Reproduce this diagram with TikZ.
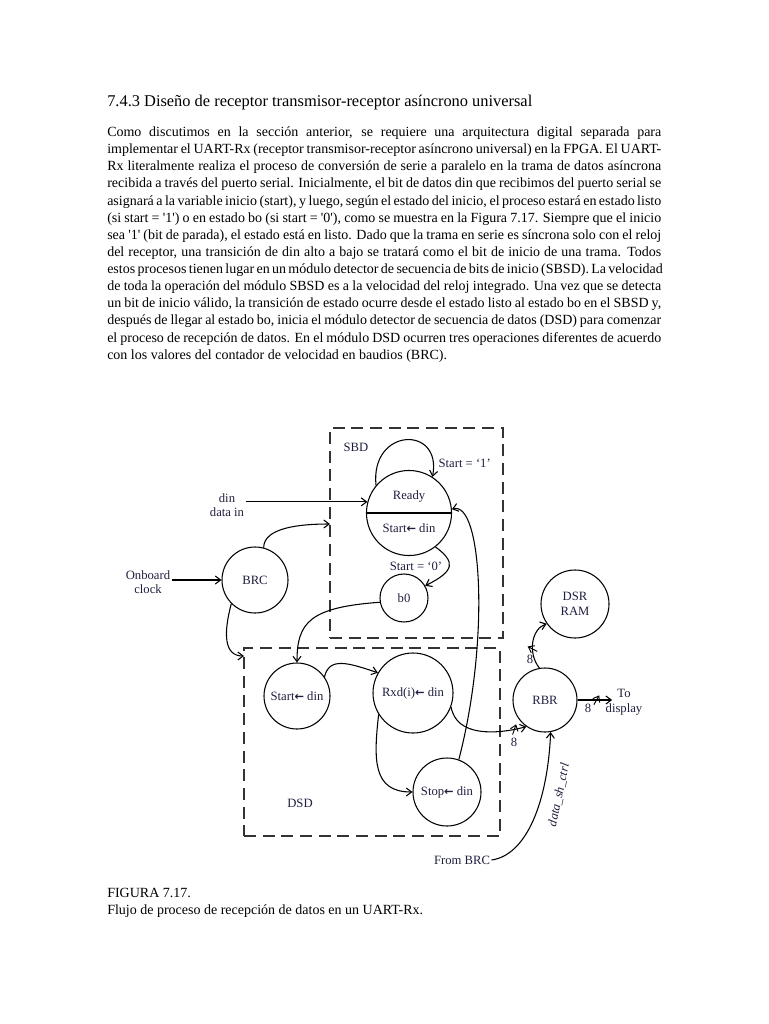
\documentclass[tikz,border=0pt]{standalone}
\usepackage{fontspec}
\setmainfont{Liberation Serif}
\newfontfamily\arrowglyph{DejaVu Sans}
\usetikzlibrary{arrows.meta,shapes.multipart,fit,decorations.markings}
\definecolor{ink}{RGB}{30,30,62}
\newcommand{\jline}[1]{\makebox[415.5pt][s]{#1}}
\newcommand{\nowide}[1]{\makebox[0pt]{#1}}
\newcommand{\sq}{\textquotesingle}
\newcommand{\getsarrow}{{\arrowglyph\bfseries\fontsize{8.5}{10}\selectfont ←}}

\begin{document}
\begin{tikzpicture}[x=0.75pt, y=-0.75pt,
  state/.style={circle, draw, line width=0.8pt, inner sep=0pt, text=ink,
    font=\fontsize{9.5}{11}\selectfont},
  flow/.style={line width=0.8pt, -{Straight Barb[length=4pt,width=6pt]}},
  module/.style={draw=black!80, line width=1pt, dash pattern=on 9pt off 5pt, inner sep=0pt},
  lbl/.style={text=ink, font=\fontsize{9.5}{11}\selectfont, inner sep=1pt},
  bus/.style={postaction={decorate, decoration={markings,
    mark=at position #1 with {\draw[line width=0.7pt] (-2pt,-3.5pt) -- (2pt,3.5pt);}}}},
  page/.style={inner sep=0pt, align=left}]
\useasboundingbox (0,0) rectangle (768,1024);

\node[page, anchor=base west, font=\fontsize{12.3}{15}\selectfont] (title) at (107,107)
  {7.4.3 Diseño de receptor transmisor-receptor asíncrono universal};
\node[page, anchor=north west, font=\fontsize{10.5}{12.85}\selectfont] (body) at (107,126.5) {%
\jline{Como discutimos en la sección anterior, se requiere una arquitectura digital separada para}\\
\jline{implementar el UART-Rx (receptor transmisor-receptor asíncrono universal) en la FPGA. El UART-}\\
\jline{Rx literalmente realiza el proceso de conversión de serie a paralelo en la trama de datos asíncrona}\\
\jline{recibida a través del puerto serial. Inicialmente, el bit de datos din que recibimos del puerto serial se}\\
\jline{asignará a la variable inicio (start), y luego, según el estado del inicio, el proceso estará en estado listo}\\
\jline{(si start = \sq1\sq) o en estado bo (si start = \sq0\sq), como se muestra en la Figura 7.17. Siempre que el inicio}\\
\jline{sea \sq1\sq{} (bit de parada), el estado está en listo. Dado que la trama en serie es síncrona solo con el reloj}\\
\jline{del receptor, una transición de din alto a bajo se tratará como el bit de inicio de una trama. Todos}\\
\jline{estos procesos tienen lugar en un módulo detector de secuencia de bits de inicio (SBSD). La velocidad}\\
\jline{de toda la operación del módulo SBSD es a la velocidad del reloj integrado. Una vez que se detecta}\\
\jline{un bit de inicio válido, la transición de estado ocurre desde el estado listo al estado bo en el SBSD y,}\\
\jline{después de llegar al estado bo, inicia el módulo detector de secuencia de datos (DSD) para comenzar}\\
\jline{el proceso de recepción de datos. En el módulo DSD ocurren tres operaciones diferentes de acuerdo}\\
con los valores del contador de velocidad en baudios (BRC).};

\node[module, fit={(330,428) (503,638)}] (sbd) {};
\node[module, fit={(244,648) (500,836)}] (dsd) {};
\node[lbl] (sbdname) at (356,447) {SBD};
\node[lbl] (dsdname) at (300,803) {DSD};
\coordinate (sbdin) at (330,524);
\coordinate (dsdin) at (244,656);

\node[state, circle split, minimum size=63pt, inner ysep=8pt] (ready) at (409,513)
  {Ready \nodepart{lower} Start\getsarrow\ din};
\node[state, minimum size=36pt] (b0) at (404,598) {b0};
\node[state, minimum size=49.5pt] (brc) at (255,580) {BRC};
\node[state, minimum size=49.5pt] (start) at (297,696) {\nowide{Start\getsarrow\ din}};
\node[state, minimum size=60pt] (rxd) at (413,693) {\nowide{Rxd(i)\getsarrow\ din}};
\node[state, minimum size=51pt] (stop) at (447,792) {\nowide{Stop\getsarrow\ din}};
\node[state, minimum size=48pt] (rbr) at (545,700) {RBR};
\node[state, minimum size=51pt, align=center] (dsr) at (575,604) {DSR\\RAM};

\node[lbl, align=center] (din) at (227,505) {din\\data in};
\node[lbl, align=center] (clock) at (148,582) {Onboard\\clock};
\node[lbl, align=center, inner sep=0pt] (disp) at (624,702) {To\\display};
\node[lbl] (frombrc) at (462,860) {From BRC};

\draw[flow] (din.east |- ready.165) -- (ready.165);
\draw[flow] (clock.east |- brc.west) -- (brc.west);
\draw[flow] (brc.75) .. controls +(0,-20) and +(-30,0) .. (sbdin);
\draw[flow] (brc.225) .. controls +(-8,30) and +(-20,0) .. (dsdin);
\draw[flow] (ready.140) .. controls +(-6,-58) and +(10,-52) .. (ready.57);
\node[lbl, anchor=west] (one) at (437,463) {Start = `1'};
\draw[flow] (ready.-52) .. controls +(20,15) and +(30,-15) .. (b0.30);
\node[lbl] (zero) at (416,566) {Start = `0'};
\draw[flow] (b0.190) .. controls +(-70,5) and +(0,-40) .. (start.north);
\draw[flow] (start.35) .. controls +(5,-20) and +(-30,-10) .. (rxd.150);
\draw[flow] (rxd.212) .. controls +(-5,45) and +(-40,0) .. (stop.west);
\draw[flow, bus=0.86] (rxd.-20) .. controls +(5,30) and +(-30,8) .. (rbr.235);
\node[lbl] (w1) at (514,742) {8};
\draw[flow] (stop.70) .. controls (490,640) and (482,500) .. (ready.5);
\draw[flow, bus=0.4] (rbr.100) .. controls +(-12,-15) and +(-15,5) .. (dsr.215);
\node[lbl] (w2) at (530,659) {8};
\draw[flow, bus=0.55] (rbr.east) -- ([xshift=5pt]disp.west |- rbr.east);
\node[lbl] (w3) at (588,708) {8};
\draw[flow] (frombrc.east) .. controls +(35,-5) and +(-3,70) .. (rbr.280);
\node[lbl, rotate=78, font=\fontsize{9.5}{11}\selectfont\itshape] (ctrl) at (559,795) {data\_sh\_ctrl};

\node[page, anchor=north west, font=\fontsize{10.5}{12.85}\selectfont] (caption) at (107,888)
  {FIGURA 7.17.\\Flujo de proceso de recepción de datos en un UART-Rx.};
\end{tikzpicture}
\end{document}
